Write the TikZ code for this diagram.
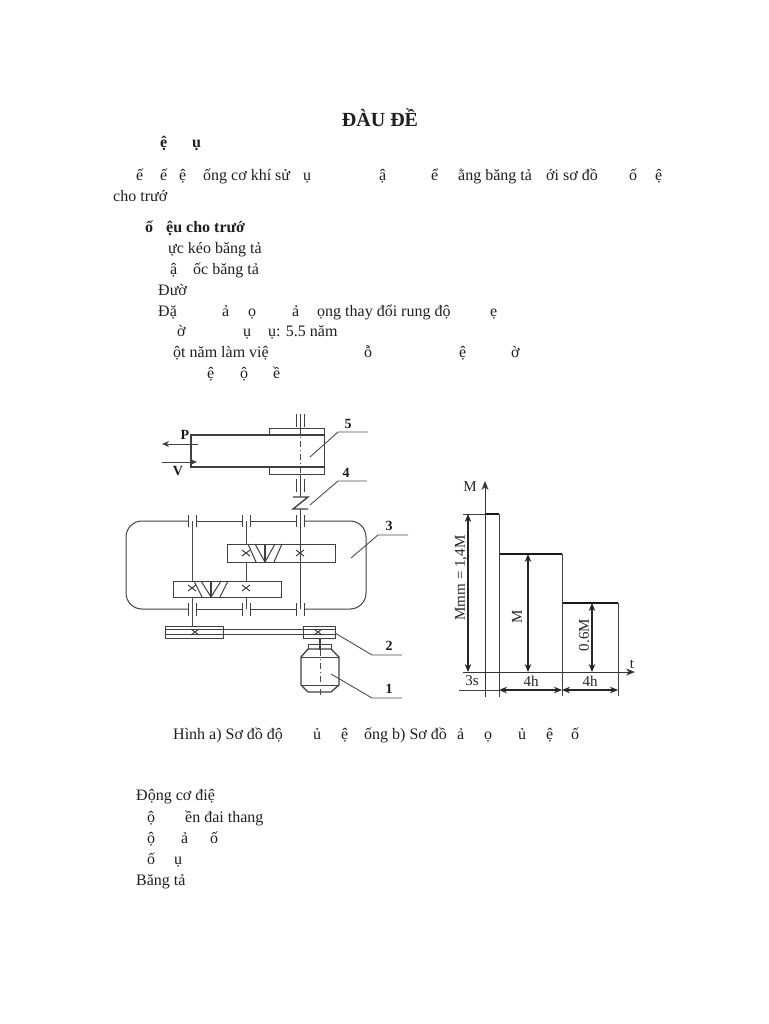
\documentclass[tikz,border=0pt]{standalone}
\usepackage{fontspec}
\setmainfont{Liberation Serif}
\usetikzlibrary{calc,arrows.meta}
\tikzset{>=stealth}
\tikzset{
  txt/.style={anchor=base west,inner sep=0pt,text=black!88,font=\fontsize{16}{18}\selectfont},
  boldtxt/.style={txt,font=\fontsize{16}{18}\selectfont\bfseries},
  num/.style={anchor=center,inner sep=0pt,text=black!90,font=\fontsize{14}{15}\selectfont\bfseries},
  dimtxt/.style={anchor=center,inner sep=0pt,text=black!85,font=\fontsize{15}{16}\selectfont},
  mech/.style={draw=black!75,line width=1pt},
  thin line/.style={draw=black!70,line width=0.9pt},
  centre line/.style={draw=black!70,line width=0.9pt,dash pattern=on 6pt off 3pt on 1pt off 3pt},
  level/.style={draw=black!90,line width=2pt},
  axisline/.style={draw=black!80,line width=1pt,-{Stealth[length=9pt,width=7pt]}},
  dimline/.style={draw=black!85,line width=1.1pt,{Stealth[length=8pt,width=6.5pt]}-{Stealth[length=8pt,width=6.5pt]}}
}
\begin{document}
\begin{tikzpicture}[x=1pt,y=-1pt]
\useasboundingbox (0,0) rectangle (768,1024);

% heading and first paragraph
\node[boldtxt,anchor=base,font=\fontsize{20}{22}\selectfont\bfseries] (title) at (380,127) {ĐÀU ĐỀ};
\node[boldtxt] (h1) at (160,148) {ệ};
\node[boldtxt] (h2) at (192,148) {ụ};
\node[txt] (a1) at (136,181) {ế};
\node[txt] (a2) at (160,181) {ế};
\node[txt] (a3) at (179,181) {ệ};
\node[txt] (a4) at (203,181) {ống cơ khí sử};
\node[txt] (a5) at (303,181) {ụ};
\node[txt] (a6) at (379,181) {ậ};
\node[txt] (a7) at (431,181) {ể};
\node[txt] (a8) at (458,181) {ằng băng tả};
\node[txt] (a9) at (546,181) {ới sơ đồ};
\node[txt] (a10) at (629,181) {ố};
\node[txt] (a11) at (655,181) {ệ};
\node[txt] (a12) at (113,202) {cho trướ};

% data list
\node[boldtxt] (b1) at (145,233) {ố};
\node[boldtxt] (b2) at (166,233) {ệu cho trướ};
\node[txt] (c1) at (168,253) {ực kéo băng tả};
\node[txt] (c2) at (170,274) {ậ};
\node[txt] (c3) at (193,274) {ốc băng tả};
\node[txt] (c4) at (158,295) {Đườ};
\node[txt] (c5) at (158,316) {Đặ};
\node[txt] (c6) at (222,316) {ả};
\node[txt] (c7) at (248,316) {ọ};
\node[txt] (c8) at (292,316) {ả};
\node[txt] (c9) at (317,316) {ọng thay đổi rung độ};
\node[txt] (c10) at (490,316) {ẹ};
\node[txt] (c11) at (177,336) {ờ};
\node[txt] (c12) at (243,336) {ụ};
\node[txt] (c13) at (268,336) {ụ: 5.5 năm};
\node[txt] (c14) at (173,357) {ột năm làm việ};
\node[txt] (c15) at (364,357) {ỗ};
\node[txt] (c16) at (459,357) {ệ};
\node[txt] (c17) at (511,357) {ờ};
\node[txt] (c18) at (207,378) {ệ};
\node[txt] (c19) at (240,378) {ộ};
\node[txt] (c20) at (273,378) {ề};

% belt drum
\draw[mech,line width=1.4pt] (269,435)--(191,435)--(191,467)--(269,467);
\draw[mech] (269,435)--(269,428)--(324,428)--(324,474)--(269,474)--(269,467);
\draw[mech,line width=1.4pt] (269,435)--(324,435) (269,467)--(324,467);
\draw[centre line] (300,428)--(300,474);
\draw[mech] (300,414)--(300,431) (300,474)--(300,497);
\foreach \xb in {296,304} {
  \draw[mech] (\xb,414)--(\xb,427);
  \draw[mech] (\xb,479)--(\xb,492);
}
\draw[mech,line width=1.4pt] (293,497)--(308,497)--(293,509)--(308,509);
\draw[mech] (300,509)--(300,521);

% load arrows
\node[num] (P) at (185,435) {P};
\node[num] (V) at (178,471) {V};
\coordinate (pa) at (198,444);
\coordinate (pb) at (162,444);
\coordinate (va) at (162,462);
\coordinate (vb) at (197,462);
\draw[mech,-{Stealth[length=7pt,width=6pt]}] (pa)--(pb);
\draw[mech,-{Stealth[length=7pt,width=6pt]}] (va)--(vb);

% gearbox housing
\draw[mech,rounded corners=16pt] (188,521)--(126,521)--(126,609)--(188,609);
\draw[mech,rounded corners=16pt] (304,521)--(366,521)--(366,609)--(304,609);
\draw[mech] (196,521)--(242,521) (250,521)--(296,521);
\draw[mech] (196,609)--(242,609) (250,609)--(296,609);
\foreach \xb in {188,196,242,250,296,304} {
  \draw[mech] (\xb,515)--(\xb,527);
  \draw[mech] (\xb,603)--(\xb,616);
}

% shafts
\draw[thin line] (192,521)--(192,581) (192,597)--(192,626);
\draw[thin line] (246,521)--(246,544) (246,562)--(246,581) (246,597)--(246,609);
\draw[mech] (300,521)--(300,609);

% gears
\draw[mech] (227,544) rectangle (335,562);
\draw[mech] (173,581) rectangle (281,597);
\foreach \cx/\ya/\yb in {265/544/562,211/581/597} {
  \draw[mech] (\cx-17,\ya)--(\cx-9,\yb);
  \draw[mech] (\cx-10,\ya)--(\cx,\yb)--(\cx+10,\ya);
  \draw[mech] (\cx+17,\ya)--(\cx+9,\yb);
  \draw[mech,line width=1.5pt] (\cx,\ya)--(\cx,\yb);
}

% cross marks of the bearings
\foreach \xm/\ym in {246/553,300/553,192/588,246/588,195/632,318/632} {
  \draw[mech] (\xm-4,\ym-3)--(\xm+4,\ym+3) (\xm-4,\ym+3)--(\xm+4,\ym-3);
}

% pulleys and belt
\draw[mech] (165,626) rectangle (223,638);
\draw[mech] (303,626) rectangle (335,638);
\draw[mech] (165,629)--(335,629) (165,634)--(335,634);

% motor
\draw[mech] (308,649)--(308,644)--(331,644)--(331,649);
\draw[mech,line width=1.4pt] (320,638)--(320,650);
\draw[mech,line width=1.3pt] (308,649)--(331,649)--(339,657)--(339,685)--(331,692)--(308,692)--(301,685)--(301,657)--cycle;
\draw[mech] (301,657)--(339,657) (301,685)--(339,685);
\draw[centre line] (320,650)--(320,697);

% part numbers with leaders
\node[num] (n5) at (348,424) {5};
\node[num] (n4) at (346,473) {4};
\node[num] (n3) at (389,526) {3};
\node[num] (n2) at (389,646) {2};
\node[num] (n1) at (389,689) {1};
\draw[thin line] (310,457)--(338,432)--(368,432);
\draw[thin line] (310,505)--(338,481)--(367,481);
\draw[thin line] (351,558)--(378,535)--(408,535);
\draw[thin line] (335,633)--(372,655)--(402,655);
\draw[thin line] (331,674)--(372,698)--(402,698);

% load chart
\draw[axisline] (485,697)--(485,481);
\draw[axisline] (463,672)--(635,672);
\node[dimtxt] (Mlab) at (470,487) {M};
\node[dimtxt] (tlab) at (632,664) {t};
\draw[mech] (463,514)--(485,514);
\draw[level] (485,514)--(499,514);
\draw[level] (499,554)--(562,554);
\draw[level] (562,603)--(618,603);
\draw[mech] (499,514)--(499,697);
\draw[mech] (562,554)--(562,696);
\draw[mech] (618,603)--(618,696);
\draw[dimline] (468,514)--(468,672);
\draw[dimline] (528,554)--(528,672);
\draw[dimline] (592,603)--(592,672);
\node[dimtxt,rotate=90] (m1) at (461,578) {Mmm = 1,4M};
\node[dimtxt,rotate=90] (m2) at (517,617) {M};
\node[dimtxt,rotate=90] (m3) at (584,635) {0.6M};
\draw[mech] (459,690)--(499,690);
\draw[dimline] (499,690)--(562,690);
\draw[dimline] (562,690)--(618,690);
\node[dimtxt] (d1) at (472,681) {3s};
\node[dimtxt] (d2) at (531,681) {4h};
\node[dimtxt] (d3) at (590,681) {4h};

% caption
\node[txt] (f1) at (173,739) {Hình a) Sơ đồ độ};
\node[txt] (f2) at (313,739) {ủ};
\node[txt] (f3) at (341,739) {ệ};
\node[txt] (f4) at (364,739) {ống b) Sơ đồ};
\node[txt] (f5) at (457,739) {ả};
\node[txt] (f6) at (484,739) {ọ};
\node[txt] (f7) at (518,739) {ủ};
\node[txt] (f8) at (546,739) {ệ};
\node[txt] (f9) at (571,739) {ố};

% parts list
\node[txt] (g1) at (136,800) {Động cơ điệ};
\node[txt] (g2) at (147,822) {ộ};
\node[txt] (g3) at (185,822) {ền đai thang};
\node[txt] (g4) at (147,843) {ộ};
\node[txt] (g5) at (181,843) {ả};
\node[txt] (g6) at (210,843) {ố};
\node[txt] (g7) at (147,864) {ố};
\node[txt] (g8) at (174,864) {ụ};
\node[txt] (g9) at (136,885) {Băng tả};
\end{tikzpicture}
\end{document}
